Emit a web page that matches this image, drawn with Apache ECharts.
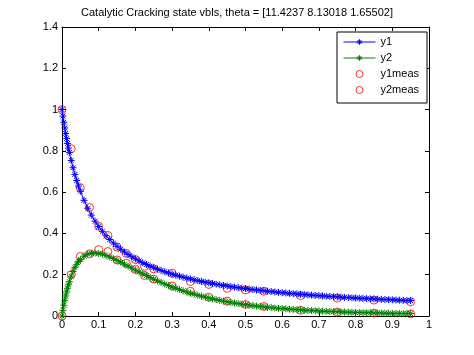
<!DOCTYPE html>
<html>
<head>
<meta charset="utf-8">
<script src="https://cdn.jsdelivr.net/npm/echarts@6/dist/echarts.min.js"></script>
<style>
html,body{margin:0;padding:0;background:#fff;}
#chart{width:474px;height:355px;}
</style>
</head>
<body>
<div id="chart"></div>
<script>
// Model time grid
var tModel = [0,0.0025,0.005,0.0075,0.01,0.0125,0.015,0.0175,0.02,0.025,0.03,0.035,0.04,0.045,0.05,0.06,0.07,0.08,0.09,
0.10,0.11,0.12,0.13,0.14,0.15,0.16,0.17,0.18,0.19,
0.20,0.21,0.22,0.23,0.24,0.25,0.26,0.27,0.28,0.29,
0.30,0.31,0.32,0.33,0.34,0.35,0.36,0.37,0.38,0.39,
0.40,0.41,0.42,0.43,0.44,0.45,0.46,0.47,0.48,0.49,
0.50,0.51,0.52,0.53,0.54,0.55,0.56,0.57,0.58,0.59,
0.60,0.61,0.62,0.63,0.64,0.65,0.66,0.67,0.68,0.69,
0.70,0.71,0.72,0.73,0.74,0.75,0.76,0.77,0.78,0.79,
0.80,0.81,0.82,0.83,0.84,0.85,0.86,0.87,0.88,0.89,
0.90,0.91,0.92,0.93,0.94,0.95];
// Model state y1
var y1Model = [1,0.9683,0.9386,0.9107,0.8843,0.8595,0.8360,0.8138,0.7927,0.7536,0.7182,0.6860,0.6565,0.6295,0.6046,0.5603,0.5221,0.4887,0.4593,
0.4333,0.4101,0.3892,0.3703,0.3532,0.3376,0.3234,0.3102,0.2981,0.2870,
0.2766,0.2669,0.2579,0.2495,0.2416,0.2342,0.2273,0.2207,0.2145,0.2087,
0.2031,0.1979,0.1929,0.1881,0.1836,0.1793,0.1752,0.1713,0.1675,0.1639,
0.1605,0.1572,0.1540,0.1510,0.1481,0.1452,0.1425,0.1399,0.1374,0.1350,
0.1326,0.1304,0.1282,0.1261,0.1240,0.1221,0.1201,0.1183,0.1165,0.1147,
0.1130,0.1114,0.1098,0.1082,0.1067,0.1053,0.1038,0.1024,0.1011,0.0998,
0.0985,0.0972,0.0960,0.0948,0.0937,0.0925,0.0914,0.0903,0.0893,0.0882,
0.0872,0.0863,0.0853,0.0844,0.0834,0.0825,0.0817,0.0808,0.0799,0.0791,
0.0783,0.0775,0.0767,0.0760,0.0752,0.0745];
// Model state y2
var y2Model = [0,0.0274,0.0525,0.0756,0.0969,0.1164,0.1344,0.1509,0.1661,0.1929,0.2155,0.2345,0.2504,0.2635,0.2743,0.2901,0.2995,0.3041,0.3050,
0.3030,0.2989,0.2930,0.2860,0.2780,0.2693,0.2603,0.2510,0.2415,0.2320,
0.2226,0.2133,0.2042,0.1953,0.1867,0.1783,0.1702,0.1625,0.1550,0.1478,
0.1409,0.1343,0.1280,0.1220,0.1162,0.1108,0.1056,0.1006,0.0959,0.0914,
0.0872,0.0831,0.0793,0.0757,0.0722,0.0689,0.0658,0.0629,0.0601,0.0574,
0.0549,0.0525,0.0502,0.0481,0.0460,0.0441,0.0423,0.0405,0.0389,0.0373,
0.0358,0.0344,0.0331,0.0318,0.0306,0.0294,0.0283,0.0273,0.0263,0.0253,
0.0244,0.0236,0.0228,0.0220,0.0212,0.0205,0.0199,0.0192,0.0186,0.0180,
0.0174,0.0169,0.0164,0.0159,0.0154,0.0150,0.0146,0.0141,0.0137,0.0134,
0.0130,0.0127,0.0123,0.0120,0.0117,0.0114];
// Measurements
var tMeas = [0,0.025,0.05,0.075,0.1,0.125,0.15,0.175,0.2,0.225,0.25,0.3,0.35,0.4,0.45,0.5,0.55,0.65,0.75,0.85,0.95];
var y1Meas = [1.0,0.8105,0.6208,0.5258,0.4345,0.3903,0.3342,0.3034,0.2735,0.2405,0.2283,0.2071,0.1669,0.1530,0.1339,0.1265,0.1200,0.0990,0.0870,0.0770,0.0690];
var y2Meas = [0,0.2000,0.2886,0.3010,0.3215,0.3123,0.2716,0.2551,0.2258,0.1959,0.1789,0.1457,0.1198,0.0909,0.0719,0.0561,0.0460,0.0280,0.0190,0.0140,0.0100];
var seriesNames = ['y1','y2','y1meas','y2meas'];
var titleText = 'Catalytic Cracking state vbls, theta = [11.4237 8.13018 1.65502]';

function pairs(xs, ys){ return xs.map(function(x,i){ return [x, ys[i]]; }); }

var FONT = 'Liberation Sans, Arial, sans-serif';
var STAR = 'path://M0,-5L0,5M-5,0L5,0M-3.5,-3.5L3.5,3.5M3.5,-3.5L-3.5,3.5';
var BLUE = '#0000ff', GREEN = '#008000', RED = '#ff0000';

var axisCommon = {
  axisLine: {show: true, onZero: false, lineStyle: {color: '#000', width: 1}},
  axisTick: {show: true, inside: true, length: 4, lineStyle: {color: '#000', width: 1}},
  splitLine: {show: false},
  axisLabel: {color: '#000', fontSize: 11, fontFamily: FONT}
};
function merge(a, b){ var o = JSON.parse(JSON.stringify(a)); for (var k in b) o[k] = b[k]; return o; }

var chart = echarts.init(document.getElementById('chart'), null, {renderer: 'canvas'});
chart.setOption({
  animation: false,
  backgroundColor: '#fff',
  title: {
    text: titleText, left: 'center', top: 7, padding: [0, 0, 0, 16],
    textStyle: {fontSize: 11, fontWeight: 'normal', color: '#000', fontFamily: FONT}
  },
  grid: {left: 62, right: 45, top: 27, bottom: 39, containLabel: false},
  xAxis: [
    merge(axisCommon, {type: 'value', position: 'bottom', min: 0, max: 1, interval: 0.1,
      axisLabel: {color: '#000', fontSize: 11, fontFamily: FONT, margin: 3}}),
    merge(axisCommon, {type: 'value', position: 'top', min: 0, max: 1, interval: 0.1,
      axisLabel: {show: false}})
  ],
  yAxis: [
    merge(axisCommon, {type: 'value', position: 'left', min: 0, max: 1.4, interval: 0.2,
      axisLabel: {color: '#000', fontSize: 11, fontFamily: FONT, margin: 4}}),
    merge(axisCommon, {type: 'value', position: 'right', min: 0, max: 1.4, interval: 0.2,
      axisLabel: {show: false}})
  ],
  legend: {
    orient: 'vertical', left: 337, top: 32, padding: [4, 8, 7, 6],
    itemWidth: 32, itemHeight: 7, itemGap: 4,
    backgroundColor: '#fff', borderColor: '#000', borderWidth: 1, borderRadius: 0,
    textStyle: {fontSize: 11, fontFamily: FONT, color: '#000', lineHeight: 12},
    data: [
      {name: seriesNames[0], lineStyle: {width: 1, color: BLUE}, itemStyle: {color: BLUE, borderColor: BLUE, borderWidth: 1}},
      {name: seriesNames[1], lineStyle: {width: 1, color: GREEN}, itemStyle: {color: GREEN, borderColor: GREEN, borderWidth: 1}},
      {name: seriesNames[2], icon: 'circle', itemStyle: {color: 'rgba(0,0,0,0)', borderColor: RED, borderWidth: 1}},
      {name: seriesNames[3], icon: 'circle', itemStyle: {color: 'rgba(0,0,0,0)', borderColor: RED, borderWidth: 1}}
    ]
  },
  series: [
    {name: seriesNames[0], type: 'line', data: pairs(tModel, y1Model), showAllSymbol: true,
      symbol: STAR, symbolSize: 7, lineStyle: {color: BLUE, width: 1},
      itemStyle: {color: BLUE, borderColor: BLUE, borderWidth: 1}, emphasis: {disabled: true}},
    {name: seriesNames[1], type: 'line', data: pairs(tModel, y2Model), showAllSymbol: true,
      symbol: STAR, symbolSize: 7, lineStyle: {color: GREEN, width: 1},
      itemStyle: {color: GREEN, borderColor: GREEN, borderWidth: 1}, emphasis: {disabled: true}},
    {name: seriesNames[2], type: 'scatter', data: pairs(tMeas, y1Meas),
      symbol: 'circle', symbolSize: 8,
      itemStyle: {color: 'rgba(0,0,0,0)', borderColor: RED, borderWidth: 1}, emphasis: {disabled: true}},
    {name: seriesNames[3], type: 'scatter', data: pairs(tMeas, y2Meas),
      symbol: 'circle', symbolSize: 8,
      itemStyle: {color: 'rgba(0,0,0,0)', borderColor: RED, borderWidth: 1}, emphasis: {disabled: true}}
  ]
});
</script>
</body>
</html>
